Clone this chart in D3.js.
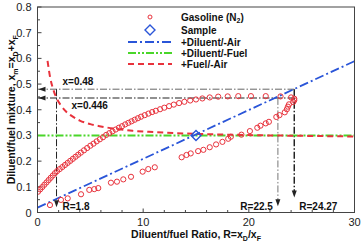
<!DOCTYPE html>
<html><head><meta charset="utf-8">
<script src="https://cdn.jsdelivr.net/npm/d3@7/dist/d3.min.js"></script>
<style>body{margin:0;background:#fff}svg{display:block}text{font-family:"Liberation Sans",Arial,sans-serif}</style>
</head><body><svg id="c" width="362" height="244"></svg>
<script>
// ---- data ----
const xTicks = [0, 10, 20, 30];
const yTicks = [0, 0.1, 0.2, 0.3, 0.4, 0.5, 0.6, 0.7, 0.8];
const yTickLabels = ["0", "0.1", "0.2", "0.3", "0.4", "0.5", "0.6", "0.7", "0.8"];
// Gasoline (N2) upper branch [R, x]
const gasUpper = [[0.05,0.081],[0.25,0.090],[0.45,0.099],[0.65,0.108],[0.85,0.117],[1.05,0.126],[1.25,0.135],[1.45,0.144],[1.65,0.153],[1.85,0.161],[2.1,0.169],[2.35,0.177],[2.6,0.185],[2.85,0.193],[3.1,0.201],[3.35,0.209],[3.6,0.217],[3.85,0.225],[4.1,0.233],[4.4,0.242],[4.7,0.251],[5.0,0.26],[5.3,0.268],[5.6,0.277],[5.9,0.285],[6.2,0.293],[6.5,0.302],[6.8,0.309],[7.1,0.316],[7.4,0.323],[7.7,0.33],[8.0,0.336],[8.3,0.343],[8.6,0.349],[8.9,0.355],[9.2,0.361],[9.5,0.367],[9.8,0.373],[10.15,0.379],[10.5,0.385],[10.85,0.391],[11.2,0.396],[11.6,0.402],[12.0,0.408],[12.45,0.414],[12.9,0.42],[13.4,0.426],[13.9,0.431],[14.45,0.436],[15.0,0.44],[15.6,0.444],[16.3,0.448],[17.1,0.451],[18.0,0.452],[19.0,0.453],[20.2,0.453],[21.6,0.453],[23.0,0.452],[24.0,0.448],[24.3,0.443]];
// Gasoline (N2) lower branch [R, x]
const gasLower = [[1.18,0.029],[2.22,0.049],[2.86,0.055],[4.12,0.071],[4.9,0.088],[5.37,0.091],[5.75,0.095],[6.95,0.116],[7.52,0.12],[8.12,0.129],[8.85,0.139],[9.95,0.159],[10.48,0.169],[11.1,0.176],[13.64,0.215],[14.1,0.224],[14.5,0.23],[15.2,0.239],[15.7,0.244],[16.3,0.254],[16.9,0.265],[17.5,0.275],[18.05,0.287],[18.3,0.295],[19.3,0.303],[20.1,0.317],[20.8,0.33],[21.1,0.338],[21.6,0.347],[21.9,0.353],[22.6,0.372],[22.9,0.379],[23.4,0.39],[23.6,0.402],[23.7,0.412],[23.8,0.421],[24.2,0.43],[24.3,0.437]];
const sample = [[15, 0.3]];
const diluentAir = [[0, 0.019], [30, 0.589]];
const diluentFuel = [[0, 0.3], [30, 0.3]];
const fuelAir = [[0.95,0.59],[1.2,0.525],[1.5,0.478],[1.8,0.446],[2.2,0.418],[2.7,0.393],[3.2,0.377],[4,0.358],[5,0.344],[6,0.335],[7.5,0.325],[9,0.318],[11,0.313],[13,0.309],[15,0.306],[18,0.303],[22,0.3],[26,0.298],[30,0.296]];
// annotations
const hLines = [{x: 0.48, r0: 0, r1: 24.3, label: "x=0.48"}, {x: 0.446, r0: 0, r1: 24.3, label: "x=0.446"}];
const vLines = [{r: 1.8, top: 0.48, bottom: 0.02, label: "R=1.8"}, {r: 22.75, top: 0.446, bottom: 0.024, label: "R=22.5"}, {r: 24.3, top: 0.48, bottom: 0.058, label: "R=24.27"}];
const legendNames = ["Gasoline (N", "Sample", "+Diluent/-Air", "+Diluent/-Fuel", "+Fuel/-Air"];

// ---- layout ----
const svg = d3.select("#c");
const L = 37.5, Rr = 354.5, T = 7, B = 212.5;
const x = d3.scaleLinear().domain([0, 30]).range([L, Rr]);
const y = d3.scaleLinear().domain([0, 0.8]).range([B, T]);
const RED = "#e8323c", BLUE = "#2a55d8", GREEN = "#4ad62a";

const clip = svg.append("clipPath").attr("id", "pc").append("rect")
  .attr("x", L).attr("y", T).attr("width", Rr - L).attr("height", B - T);

// ticks
const g = svg.append("g");
const minorX = d3.range(0, 31, 2);
g.selectAll(".mx").data(minorX).enter().append("line")
  .attr("x1", d => x(d)).attr("x2", d => x(d)).attr("y1", B).attr("y2", d => xTicks.includes(d) ? B - 4 : B - 2.5)
  .attr("stroke", "#444").attr("stroke-width", 1);
const minorY = d3.range(0, 0.801, 0.05);
g.selectAll(".my").data(minorY).enter().append("line")
  .attr("y1", d => y(d)).attr("y2", d => y(d)).attr("x1", L).attr("x2", (d, i) => i % 2 === 0 ? L + 4 : L + 2.5)
  .attr("stroke", "#444").attr("stroke-width", 1);

// tick labels
g.selectAll(".xl").data(xTicks).enter().append("text")
  .attr("x", d => x(d)).attr("y", B + 13).attr("text-anchor", "middle")
  .attr("font-size", 11).attr("fill", "#222").text(d => d);
g.selectAll(".yl").data(yTicks).enter().append("text")
  .attr("x", L - 6).attr("y", d => y(d) + 4).attr("text-anchor", "end")
  .attr("font-size", 11).attr("fill", "#222").text((d, i) => yTickLabels[i]);

const plot = svg.append("g").attr("clip-path", "url(#pc)");
const line = d3.line().x(d => x(d[0])).y(d => y(d[1]));

// annotation lines
hLines.forEach((h, i) => {
  plot.append("line").attr("x1", x(h.r0)).attr("x2", x(h.r1)).attr("y1", y(h.x)).attr("y2", y(h.x))
    .attr("stroke", i === 0 ? "#555" : "#222").attr("stroke-width", i === 0 ? 0.9 : 1.1)
    .attr("stroke-dasharray", "7,2,1.5,2");
  const ay = y(h.x), ax = x(0) + 1;
  svg.append("path").attr("d", `M${ax},${ay} L${ax + 7},${ay - 2.5} L${ax + 7},${ay + 2.5}Z`).attr("fill", "#222");
});
vLines.forEach((v, i) => {
  const col = i === 1 ? "#777" : "#222";
  const w = i === 2 ? 1.5 : 1;
  plot.append("line").attr("x1", x(v.r)).attr("x2", x(v.r)).attr("y1", y(v.top)).attr("y2", y(v.bottom) - 4)
    .attr("stroke", col).attr("stroke-width", w).attr("stroke-dasharray", "7,2,1.5,2");
  const ax = x(v.r), ay = y(v.bottom);
  svg.append("path").attr("d", `M${ax},${ay} L${ax - 2.5},${ay - 7} L${ax + 2.5},${ay - 7}Z`).attr("fill", "#222");
});

// series lines
plot.append("path").datum(diluentFuel).attr("d", line).attr("fill", "none")
  .attr("stroke", GREEN).attr("stroke-width", 2).attr("stroke-dasharray", "8,2,2,2,2,2");
plot.append("path").datum(fuelAir).attr("d", line.curve(d3.curveMonotoneX)).attr("fill", "none")
  .attr("stroke", RED).attr("stroke-width", 2).attr("stroke-dasharray", "6,4");
line.curve(d3.curveLinear);
plot.append("path").datum(diluentAir).attr("d", line).attr("fill", "none")
  .attr("stroke", BLUE).attr("stroke-width", 1.8).attr("stroke-dasharray", "9,3,2,3");

// circles
plot.selectAll(".gu").data(gasUpper.concat(gasLower)).enter().append("circle")
  .attr("cx", d => x(d[0])).attr("cy", d => y(d[1])).attr("r", 2.6)
  .attr("fill", "none").attr("stroke", RED).attr("stroke-width", 1);
// sample diamond
plot.selectAll(".s").data(sample).enter().append("path")
  .attr("d", d => `M${x(d[0])},${y(d[1]) - 5} l5,5 l-5,5 l-5,-5Z`)
  .attr("fill", "none").attr("stroke", BLUE).attr("stroke-width", 1.4);

// annotation labels
const ann = svg.append("g").attr("font-size", 10).attr("font-weight", "bold").attr("fill", "#111");
ann.append("text").attr("x", x(0) + 25).attr("y", y(hLines[0].x) - 4).text(hLines[0].label);
ann.append("text").attr("x", x(0) + 34).attr("y", y(hLines[1].x) + 11).text(hLines[1].label);
ann.append("text").attr("x", x(vLines[0].r) + 6).attr("y", B - 3).text(vLines[0].label);
ann.append("text").attr("x", x(vLines[1].r) - 5).attr("y", B - 3).attr("text-anchor", "end").text(vLines[1].label);
ann.append("text").attr("x", x(vLines[2].r) + 5).attr("y", B - 3).text(vLines[2].label);

// frame
svg.append("rect").attr("x", L).attr("y", T).attr("width", Rr - L).attr("height", B - T)
  .attr("fill", "none").attr("stroke", "#444").attr("stroke-width", 1);

// legend
const lg = svg.append("g").attr("font-size", 10).attr("font-weight", "bold").attr("fill", "#111");
const ly = [17, 30, 42, 53, 64];
const lx0 = 128, lx1 = 172, tx = 181;
lg.append("circle").attr("cx", 150).attr("cy", ly[0]).attr("r", 2).attr("fill", "none").attr("stroke", RED).attr("stroke-width", 1);
lg.append("path").attr("d", `M150,${ly[1] - 5} l5,5 l-5,5 l-5,-5Z`).attr("fill", "none").attr("stroke", BLUE).attr("stroke-width", 1.4);
lg.append("line").attr("x1", lx0).attr("x2", lx1).attr("y1", ly[2]).attr("y2", ly[2]).attr("stroke", BLUE).attr("stroke-width", 1.8).attr("stroke-dasharray", "9,3,2,3");
lg.append("line").attr("x1", lx0).attr("x2", lx1).attr("y1", ly[3]).attr("y2", ly[3]).attr("stroke", GREEN).attr("stroke-width", 2).attr("stroke-dasharray", "8,2,2,2,2,2");
lg.append("line").attr("x1", lx0).attr("x2", lx1).attr("y1", ly[4]).attr("y2", ly[4]).attr("stroke", RED).attr("stroke-width", 2).attr("stroke-dasharray", "6,4");
legendNames.forEach((n, i) => {
  const t = lg.append("text").attr("x", tx).attr("y", ly[i] + 3.5);
  if (i === 0) {
    t.append("tspan").text(n);
    t.append("tspan").attr("font-size", 7).attr("dy", 2.5).text("2");
    t.append("tspan").attr("dy", -2.5).text(")");
  } else t.text(n);
});

// axis titles
const xt = svg.append("text").attr("x", (L + Rr) / 2).attr("y", 238).attr("text-anchor", "middle")
  .attr("font-size", 10.5).attr("font-weight", "bold").attr("fill", "#111");
xt.append("tspan").text("Diluent/fuel Ratio, R=x");
xt.append("tspan").attr("font-size", 7).attr("dy", 2.5).text("D");
xt.append("tspan").attr("dy", -2.5).text("/x");
xt.append("tspan").attr("font-size", 7).attr("dy", 2.5).text("F");

const yt = svg.append("text").attr("transform", `translate(15,${(T + B) / 2}) rotate(-90)`).attr("text-anchor", "middle")
  .attr("font-size", 10.5).attr("font-weight", "bold").attr("fill", "#111");
yt.append("tspan").text("Diluent/fuel mixture, x");
yt.append("tspan").attr("font-size", 7).attr("dy", 2.5).text("m");
yt.append("tspan").attr("dy", -2.5).text("=x");
yt.append("tspan").attr("font-size", 7).attr("dy", 2.5).text("D");
yt.append("tspan").attr("dy", -2.5).text("+x");
yt.append("tspan").attr("font-size", 7).attr("dy", 2.5).text("F");
</script></body></html>
